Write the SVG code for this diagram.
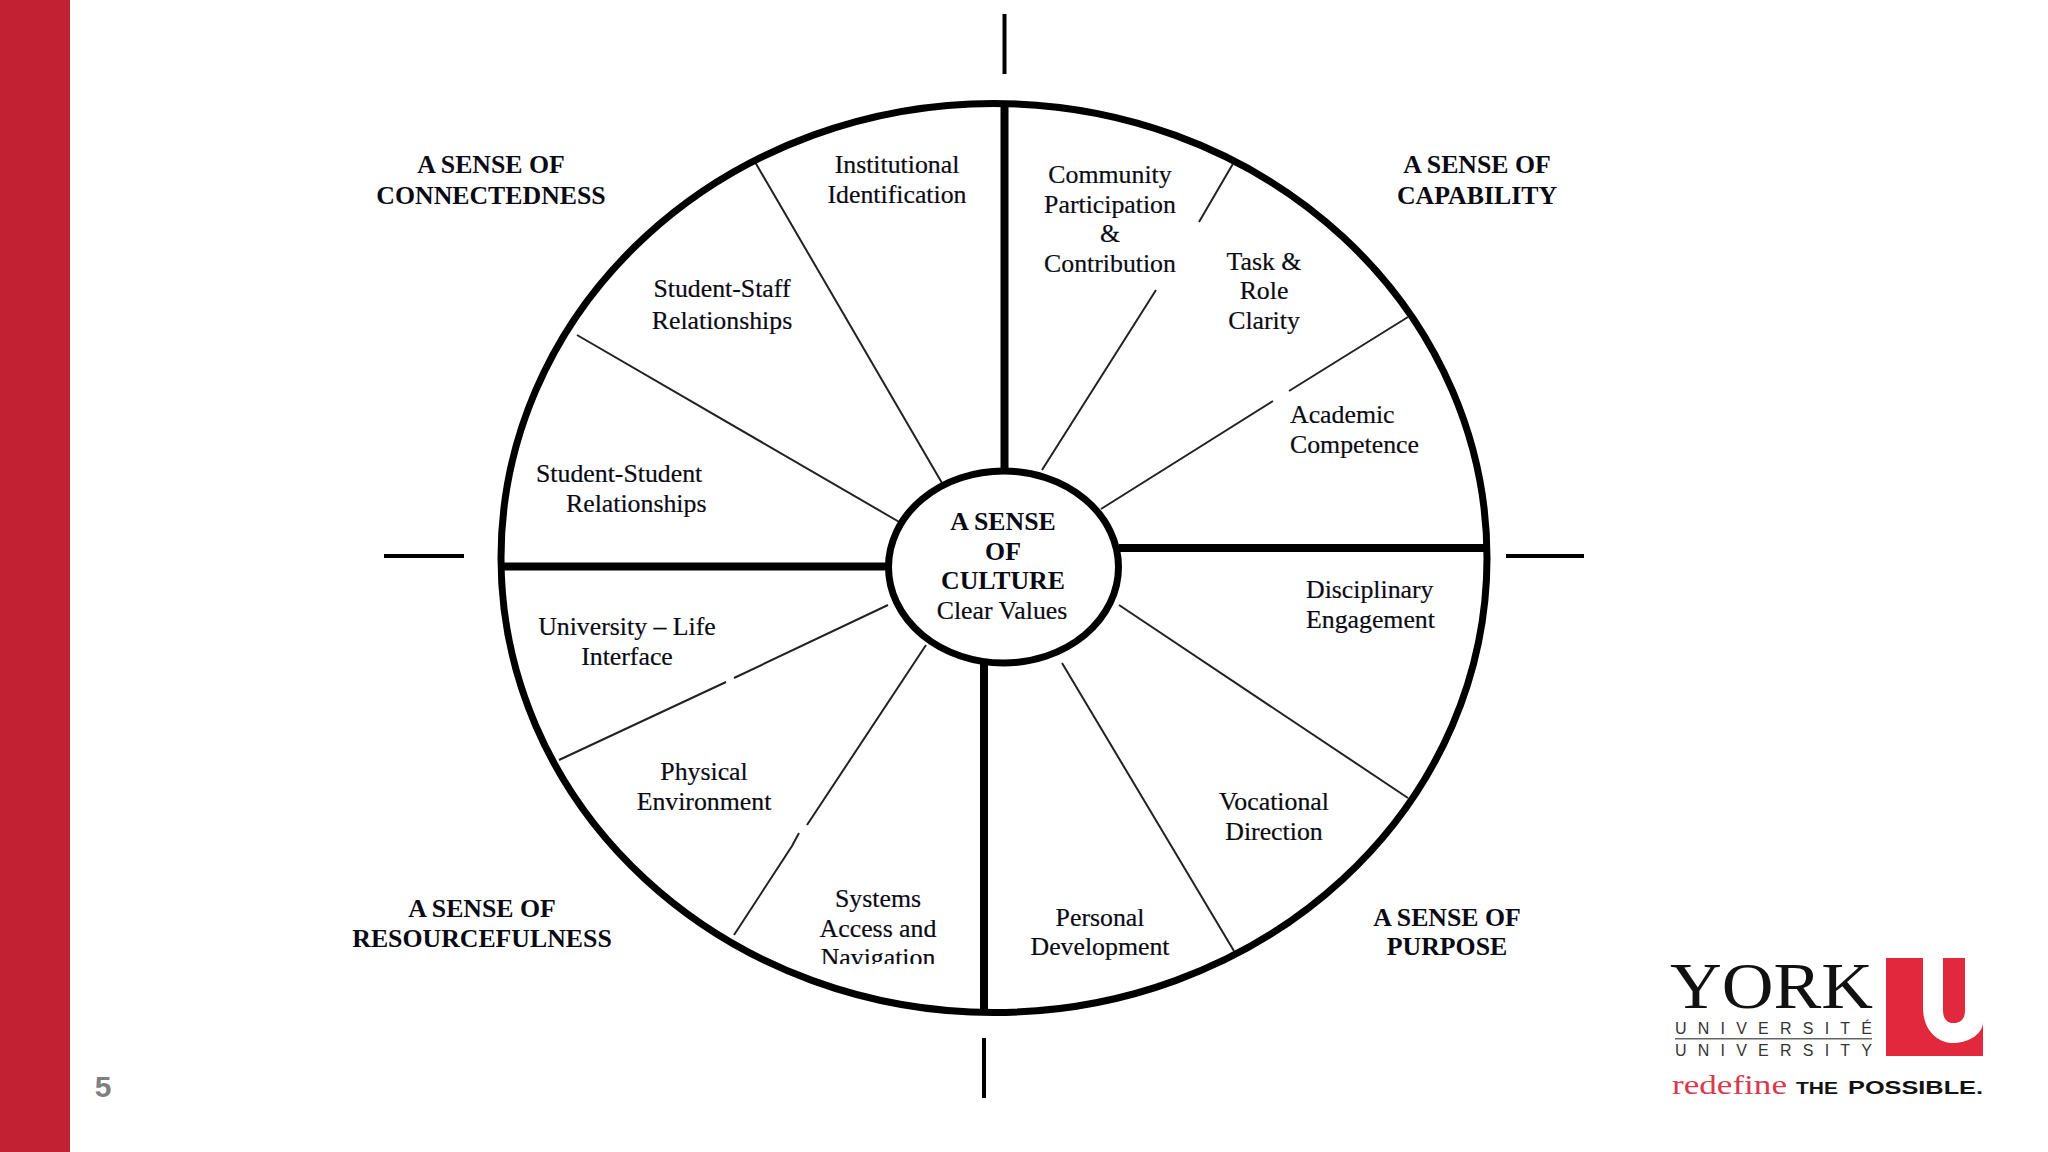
<svg xmlns="http://www.w3.org/2000/svg" width="2048" height="1152" viewBox="0 0 2048 1152">
<style>
.t{font-family:"Liberation Serif","Times New Roman",serif;font-size:25.800px;fill:#0a0a14;stroke:#0a0a14;stroke-width:.2;text-anchor:middle}
.l{text-anchor:start}
.b{font-weight:bold;stroke-width:0}
.thick{stroke:#000;stroke-width:8;fill:none}
.thin{stroke:#222;stroke-width:2;fill:none}
.tick{stroke:#000;stroke-width:4;fill:none}
</style>
<defs><clipPath id="navclip"><rect x="780" y="930" width="200" height="34"/></clipPath></defs>
<rect width="2048" height="1152" fill="#fff"/>
<rect id="bar" x="0" y="0" width="70" height="1152" fill="#c22033"/>
<text id="page" x="103" y="1097" font-family="Liberation Sans,Arial,sans-serif" font-weight="bold" font-size="30" fill="#7f7f7f" text-anchor="middle">5</text>

<g id="connectors">
<path class="thick" d="M1004.500 102V471M1119 548H1486M984 663V1012M501 566.500H888"/>
<path class="tick" d="M1004.500 14V74M384 556H464M1506 556H1584M984 1038V1098"/>
<path class="thin" d="M755 162L942 483M577 335L901 523M1234 162L1199 222M1156 290L1042 470M1408 317L1289 391M1273 401L1101 509M1119 605L1408 798M1062 663L1234 951M888 605L734 678M726 682L559 760M926 645L807 825M799 833L792 846L734 935"/>
</g>

<g id="wheel"><ellipse cx="994" cy="558" rx="493" ry="454.500" fill="none" stroke="#000" stroke-width="7"/></g>
<g id="hub"><ellipse cx="1003.500" cy="567" rx="115" ry="96" fill="#fff" stroke="#000" stroke-width="7"/>
<text class="t b" x="1003" y="530">A SENSE</text><text class="t b" x="1003" y="560">OF</text><text class="t b" x="1003" y="589">CULTURE</text><text class="t" x="1002" y="619">Clear Values</text></g>

<g id="n-connectedness"><text class="t b" x="491" y="173">A SENSE OF</text><text class="t b" x="491" y="204">CONNECTEDNESS</text></g>
<g id="n-capability"><text class="t b" x="1477" y="173">A SENSE OF</text><text class="t b" x="1477" y="204">CAPABILITY</text></g>
<g id="n-resourcefulness"><text class="t b" x="482" y="917">A SENSE OF</text><text class="t b" x="482" y="947">RESOURCEFULNESS</text></g>
<g id="n-purpose"><text class="t b" x="1447" y="926">A SENSE OF</text><text class="t b" x="1447" y="955">PURPOSE</text></g>

<g id="n-institutional"><text class="t" x="897" y="173">Institutional</text><text class="t" x="897" y="203">Identification</text></g>
<g id="n-community"><text class="t" x="1110" y="183">Community</text><text class="t" x="1110" y="213">Participation</text><text class="t" x="1110" y="242">&amp;</text><text class="t" x="1110" y="272">Contribution</text></g>
<g id="n-task"><text class="t" x="1264" y="270">Task &amp;</text><text class="t" x="1264" y="299">Role</text><text class="t" x="1264" y="329">Clarity</text></g>
<g id="n-academic"><text class="t l" x="1290" y="423">Academic</text><text class="t l" x="1290" y="453">Competence</text></g>
<g id="n-disciplinary"><text class="t l" x="1306" y="598">Disciplinary</text><text class="t l" x="1306" y="628">Engagement</text></g>
<g id="n-vocational"><text class="t" x="1274" y="810">Vocational</text><text class="t" x="1274" y="840">Direction</text></g>
<g id="n-personal"><text class="t" x="1100" y="926">Personal</text><text class="t" x="1100" y="955">Development</text></g>
<g id="n-systems"><text class="t" x="878" y="907">Systems</text><text class="t" x="878" y="937">Access and</text><text class="t" x="878" y="966" clip-path="url(#navclip)">Navigation</text></g>
<g id="n-physical"><text class="t" x="704" y="780">Physical</text><text class="t" x="704" y="810">Environment</text></g>
<g id="n-university"><text class="t" x="627" y="635">University – Life</text><text class="t" x="627" y="665">Interface</text></g>
<g id="n-student-student"><text class="t l" x="536" y="482">Student-Student</text><text class="t l" x="566" y="512">Relationships</text></g>
<g id="n-student-staff"><text class="t" x="722" y="297">Student-Staff</text><text class="t" x="722" y="329">Relationships</text></g>

<g id="logo">
<text x="1670" y="1008" font-family="Liberation Serif,serif" font-size="66" fill="#111" textLength="203" lengthAdjust="spacingAndGlyphs">YORK</text>
<path fill="#e1283c" d="M1886 958H1923V1007C1923 1033 1940 1043 1953 1043C1970 1043 1983 1033 1983 1022V1056H1886Z"/>
<path fill="#e1283c" d="M1943 958H1965V1010C1965 1020 1960 1023 1953 1023C1948 1023 1943 1020 1943 1010Z"/>
<text x="1675" y="1034" font-family="Liberation Sans,sans-serif" font-size="16" fill="#333" textLength="197">UNIVERSITÉ</text>
<rect x="1675" y="1038" width="197" height="1.500" fill="#666"/>
<text x="1675" y="1056" font-family="Liberation Sans,sans-serif" font-size="16" fill="#333" textLength="197">UNIVERSITY</text>
<text x="1672" y="1094" font-family="Liberation Serif,serif" font-size="27" fill="#d9394c" textLength="115" lengthAdjust="spacingAndGlyphs">redefine</text>
<text x="1796" y="1094" font-family="Liberation Sans,sans-serif" font-weight="bold" font-size="17" fill="#111" textLength="42" lengthAdjust="spacingAndGlyphs">THE</text>
<text x="1848" y="1094" font-family="Liberation Sans,sans-serif" font-weight="bold" font-size="19" fill="#111" textLength="135" lengthAdjust="spacingAndGlyphs">POSSIBLE.</text>
</g>
</svg>
